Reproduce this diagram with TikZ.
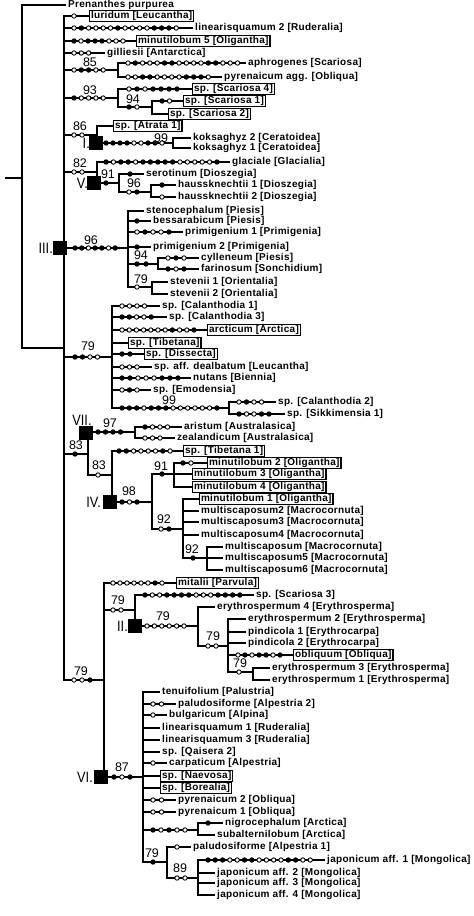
\documentclass[tikz,border=0pt]{standalone}
\usepackage{fontspec}
\setmainfont{Liberation Sans}
\newfontfamily\lblfont{Liberation Sans}[LetterSpace=3]
\newcommand\lblf{\lblfont\bfseries\fontsize{10}{11}\selectfont}
\newcommand\bsf{\fontsize{12.5}{12.5}\selectfont}
\newcommand\rnf{\fontsize{15}{15}\selectfont}
\newcommand\rns[1]{\scalebox{0.85}[1]{#1}}
\newcommand\mks[4]{\foreach \t [count=\i from 0] in {#4}{\draw[mk,fill=black!\t00] ({#1+\i*#3},#2) circle[radius=2.2pt];}}
\newcommand\ed[2]{\draw[br] (#1) |- (#2);}
\begin{document}
\begin{tikzpicture}[x=1pt,y=-1pt,
 br/.style={line width=1.25pt},
 lab/.style={anchor=west,inner xsep=2pt,inner ysep=0pt,font=\lblf},
 blab/.style={lab,draw,line width=1.1pt,inner xsep=1.5pt,inner ysep=0.6pt,text height=7.6pt,text depth=2.2pt},
 bs/.style={font=\bsf,inner sep=0pt},
 rn/.style={font=\rnf,inner sep=0pt,anchor=east},
 mk/.style={line width=0.9pt,draw=black},
 sq/.style={fill=black,minimum size=14pt,inner sep=0pt,rectangle}]
\useasboundingbox[fill=white] (0,0) rectangle (474,916);
% ---------- coordinates and leaves
\coordinate (R) at (22,178);
\coordinate (R0) at (5,178);
\coordinate (A) at (64,348);
\node[lab] (pren) at (66,5) {Prenanthes purpurea};
\node[blab] (lur) at (89,16) {luridum [Leucantha]};
\node[lab] (lin2) at (193,28) {linearisquamum 2 [Ruderalia]};
\node[blab] (mino5) at (136,41) {minutilobum 5 [Oligantha]};
\node[lab] (gil) at (105,53) {gilliesii [Antarctica]};
\coordinate (c85) at (118,70);
\node[lab] (aph) at (246,63) {aphrogenes [Scariosa]};
\node[lab] (pyrag) at (222,77) {pyrenaicum agg. [Obliqua]};
\coordinate (c93) at (118,98);
\node[blab] (sc4) at (192,89) {sp. [Scariosa 4]};
\coordinate (c94) at (152,107);
\node[blab] (sc1) at (183,101) {sp. [Scariosa 1]};
\node[blab] (sc2) at (168,114) {sp. [Scariosa 2]};
\coordinate (c86) at (97,135);
\node[blab] (atr) at (113,126) {sp. [Atrata 1]};
\coordinate (c99a) at (173,143);
\node[lab] (kok2) at (191,138) {koksaghyz 2 [Ceratoidea]};
\node[lab] (kok1) at (191,148) {koksaghyz 1 [Ceratoidea]};
\coordinate (c82) at (97,172);
\node[lab] (gla) at (230,162) {glaciale [Glacialia]};
\coordinate (c91) at (119,183);
\node[lab] (ser) at (144,174) {serotinum [Dioszegia]};
\coordinate (c96) at (151,192);
\node[lab] (hau1) at (176,185) {haussknechtii 1 [Dioszegia]};
\node[lab] (hau2) at (176,197) {haussknechtii 2 [Dioszegia]};
\coordinate (c96b) at (128,248);
\node[lab] (ste) at (144,211) {stenocephalum [Piesis]};
\node[lab] (bes) at (151,221) {bessarabicum [Piesis]};
\node[lab] (pri1) at (183,232) {primigenium 1 [Primigenia]};
\node[lab] (pri2) at (151,247) {primigenium 2 [Primigenia]};
\coordinate (c94b) at (158,264);
\node[lab] (cyl) at (199,258) {cylleneum [Piesis]};
\node[lab] (far) at (199,269) {farinosum [Sonchidium]};
\coordinate (c79a) at (152,287);
\node[lab] (stv1) at (168,282) {stevenii 1 [Orientalia]};
\node[lab] (stv2) at (168,294) {stevenii 2 [Orientalia]};
\coordinate (c79b) at (112,357);
\node[lab] (cal1) at (160,306) {sp. [Calanthodia 1]};
\node[lab] (cal3) at (167,317) {sp. [Calanthodia 3]};
\node[blab] (arc) at (207,330) {arcticum [Arctica]};
\node[blab] (tib) at (128,343) {sp. [Tibetana]};
\node[blab] (dis) at (144,354) {sp. [Dissecta]};
\node[lab] (dea) at (152,367) {sp. aff. dealbatum [Leucantha]};
\node[lab] (nut) at (191,378) {nutans [Biennia]};
\node[lab] (emo) at (151,390) {sp. [Emodensia]};
\coordinate (c99b) at (229,408);
\node[lab] (cal2) at (276,402) {sp. [Calanthodia 2]};
\node[lab] (sik) at (285,414) {sp. [Sikkimensia 1]};
\coordinate (c83a) at (88,454);
\coordinate (c97) at (135,432);
\node[lab] (ari) at (182,427) {aristum [Australasica]};
\node[lab] (zea) at (175,438) {zealandicum [Australasica]};
\coordinate (c83b) at (112,475);
\node[blab] (tib1) at (183,451) {sp. [Tibetana 1]};
\coordinate (c98) at (152,502);
\coordinate (c91b) at (174,474);
\node[blab] (mi2) at (207,463) {minutilobum 2 [Oligantha]};
\node[blab] (mi3) at (192,474) {minutilobum 3 [Oligantha]};
\node[blab] (mi4) at (192,487) {minutilobum 4 [Oligantha]};
\coordinate (c92a) at (183,529);
\node[blab] (mi1) at (199,499) {minutilobum 1 [Oligantha]};
\node[lab] (ms2) at (199,511) {multiscaposum2 [Macrocornuta]};
\node[lab] (ms3) at (199,522) {multiscaposum3 [Macrocornuta]};
\node[lab] (ms4) at (199,535) {multiscaposum4 [Macrocornuta]};
\coordinate (c92b) at (207,558);
\node[lab] (ms) at (223,547) {multiscaposum [Macrocornuta]};
\node[lab] (ms5) at (223,558) {multiscaposum5 [Macrocornuta]};
\node[lab] (ms6) at (223,570) {multiscaposum6 [Macrocornuta]};
\coordinate (c79c) at (104,680);
\node[blab] (mit) at (176,583) {mitalii [Parvula]};
\coordinate (c79d) at (135,610);
\node[lab] (sc3) at (254,595) {sp. [Scariosa 3]};
\coordinate (c79e) at (198,626);
\node[lab] (er4) at (215,607) {erythrospermum 4 [Erythrosperma]};
\coordinate (c79f) at (228,646);
\node[lab] (er2) at (246,619) {erythrospermum 2 [Erythrosperma]};
\node[lab] (pin1) at (246,632) {pindicola 1 [Erythrocarpa]};
\node[lab] (pin2) at (246,643) {pindicola 2 [Erythrocarpa]};
\node[blab] (obl) at (293,655) {obliquum [Obliqua]};
\coordinate (c79g) at (253,672);
\node[lab] (er3) at (270,668) {erythrospermum 3 [Erythrosperma]};
\node[lab] (er1) at (270,680) {erythrospermum 1 [Erythrosperma]};
\coordinate (c87) at (143,777);
\node[lab] (ten) at (160,692) {tenuifolium [Palustria]};
\node[lab] (pal2) at (176,704) {paludosiforme [Alpestria 2]};
\node[lab] (bul) at (167,715) {bulgaricum [Alpina]};
\node[lab] (lin1) at (160,728) {linearisquamum 1 [Ruderalia]};
\node[lab] (lin3) at (160,740) {linearisquamum 3 [Ruderalia]};
\node[lab] (qai) at (160,752) {sp. [Qaisera 2]};
\node[lab] (car) at (167,763) {carpaticum [Alpestria]};
\node[blab] (nae) at (160,776) {sp. [Naevosa]};
\node[blab] (bor) at (160,788) {sp. [Borealia]};
\node[lab] (pyr2) at (176,800) {pyrenaicum 2 [Obliqua]};
\node[lab] (pyr1) at (176,812) {pyrenaicum 1 [Obliqua]};
\coordinate (cn) at (198,830);
\node[lab] (nig) at (223,823) {nigrocephalum [Arctica]};
\node[lab] (sub) at (215,835) {subalternilobum [Arctica]};
\coordinate (c79h) at (167,862);
\node[lab] (pal1) at (191,847) {paludosiforme [Alpestria 1]};
\coordinate (c89) at (198,878);
\node[lab] (jap1) at (325,860) {japonicum aff. 1 [Mongolica]};
\node[lab] (jap2) at (215,873) {japonicum aff. 2 [Mongolica]};
\node[lab] (jap3) at (215,883) {japonicum aff. 3 [Mongolica]};
\node[lab] (jap4) at (215,895) {japonicum aff. 4 [Mongolica]};
% ---------- branches
\draw[br] (R0) -- (R);
\ed{R}{pren.west} \ed{R}{A}
\foreach \c in {lur.west,lin2.west,mino5.west,gil.west,c85,c93,c86,c82,c96b,c79b,c83a,c79c}{\ed{A}{\c}}
\ed{c85}{aph.west} \ed{c85}{pyrag.west}
\ed{c93}{sc4.west} \ed{c93}{c94}
\ed{c94}{sc1.west} \ed{c94}{sc2.west}
\ed{c86}{atr.west} \ed{c86}{c99a}
\ed{c99a}{kok2.west} \ed{c99a}{kok1.west}
\ed{c82}{gla.west} \ed{c82}{c91}
\ed{c91}{ser.west} \ed{c91}{c96}
\ed{c96}{hau1.west} \ed{c96}{hau2.west}
\foreach \c in {ste.west,bes.west,pri1.west,pri2.west,c94b,c79a}{\ed{c96b}{\c}}
\ed{c94b}{cyl.west} \ed{c94b}{far.west}
\ed{c79a}{stv1.west} \ed{c79a}{stv2.west}
\foreach \c in {cal1.west,cal3.west,arc.west,tib.west,dis.west,dea.west,nut.west,emo.west,c99b}{\ed{c79b}{\c}}
\ed{c99b}{cal2.west} \ed{c99b}{sik.west}
\ed{c83a}{c97} \ed{c83a}{c83b}
\ed{c97}{ari.west} \ed{c97}{zea.west}
\ed{c83b}{tib1.west} \ed{c83b}{c98}
\ed{c98}{c91b} \ed{c98}{c92a}
\foreach \c in {mi2.west,mi3.west,mi4.west}{\ed{c91b}{\c}}
\foreach \c in {mi1.west,ms2.west,ms3.west,ms4.west,c92b}{\ed{c92a}{\c}}
\foreach \c in {ms.west,ms5.west,ms6.west}{\ed{c92b}{\c}}
\foreach \c in {mit.west,c79d,c87}{\ed{c79c}{\c}}
\ed{c79d}{sc3.west} \ed{c79d}{c79e}
\ed{c79e}{er4.west} \ed{c79e}{c79f}
\foreach \c in {er2.west,pin1.west,pin2.west,obl.west,c79g}{\ed{c79f}{\c}}
\ed{c79g}{er3.west} \ed{c79g}{er1.west}
\foreach \c in {ten.west,pal2.west,bul.west,lin1.west,lin3.west,qai.west,car.west,nae.west,bor.west,pyr2.west,pyr1.west,cn,c79h}{\ed{c87}{\c}}
\ed{cn}{nig.west} \ed{cn}{sub.west}
\ed{c79h}{pal1.west} \ed{c79h}{c89}
\foreach \c in {jap1.west,jap2.west,jap3.west,jap4.west}{\ed{c89}{\c}}
% ---------- character marks (0 open, 1 filled)
\mks{74}{16}{7.3}{0}
\mks{74}{28}{7.3}{0,1,0,0,0,0,1,0,0,0,0,1,1,1,0}
\mks{74}{41}{7}{1,0,1,1,1,0,0,0}
\mks{74}{53}{7.3}{0,0,0}
\mks{74}{70}{7.3}{0,1,1,0,0}
\mks{128}{63}{7.3}{0,1,0,0,0,1,1,0,0,0,0,1,1,0,0,0}
\mks{128}{77}{7.3}{0,0,1,1,0,0,0,0,1,1,1,0}
\mks{74}{98}{7.3}{1,0,0,0,0}
\mks{129}{89}{8}{0,1,0,1,1,1,1}
\mks{129}{107}{8}{1,0}
\mks{162}{101}{7.5}{1,0}
\mks{74}{135}{8}{0,0}
\mks{106}{143}{7}{1,1,1,1,0,0,1,1,0}
\mks{106}{162}{7.4}{1,0,1,1,0,1,1,1,1,1,0,0,0,0,0,1}
\mks{74}{172}{8}{0,0}
\mks{106}{183}{7}{1}
\mks{130}{174}{7}{1}
\mks{129}{192}{8}{0,1}
\mks{162}{185}{7}{1}
\mks{162}{197}{7}{0}
\mks{137}{221}{7}{1}
\mks{137}{232}{8}{0,1,0,0,1}
\mks{75}{248}{6.7}{1,1,0,1,1,0,1}
\mks{137}{247}{7}{1}
\mks{137}{264}{9}{1,1}
\mks{168}{258}{8}{0,1,0}
\mks{168}{269}{8}{1,0,1}
\mks{137}{287}{7}{0}
\mks{122}{306}{7.5}{0,0,0,0}
\mks{122}{317}{7.3}{1,1,0,0,1}
\mks{122}{330}{7.2}{0,0,0,0,0,0,0,1,0,0,1}
\mks{75}{357}{7.5}{1,1,0,0}
\mks{122}{354}{8}{1,1}
\mks{122}{367}{7.5}{0,0,0}
\mks{122}{378}{8}{1,1,0,0,0,1,1,1}
\mks{122}{390}{7.5}{0,1,0}
\mks{122}{408}{7.3}{1,1,1,0,1,1,1,0,0,0,0,0,0,1}
\mks{239}{402}{7.5}{0,1,0,0}
\mks{239}{414}{7.5}{1,0,0,1,1}
\mks{98}{432}{7.5}{1,1,1,1}
\mks{145}{427}{7.5}{1,0,0,0}
\mks{145}{438}{7.5}{0,0,0}
\mks{75}{454}{7}{1}
\mks{119}{451}{7.3}{1,1,0,0,0,0,1,0}
\mks{98}{475}{7}{0}
\mks{162}{474}{7}{1}
\mks{183}{463}{8}{1,0}
\mks{122}{502}{7.5}{1,0,1}
\mks{161}{529}{8}{0,1}
\mks{193}{558}{7}{1}
\mks{113}{583}{7}{0,0,0,0,0,0,1,0}
\mks{145}{595}{7.3}{1,0,0,1,1,1,1,0,0,0,1,1,1,1}
\mks{113}{610}{8}{0,0}
\mks{147}{626}{7.4}{0,0,0,0,0,0}
\mks{208}{646}{8}{0,0}
\mks{238}{655}{7}{0,1,0,1,1,0,1}
\mks{239}{672}{7}{0}
\mks{74}{680}{8}{0,0,1}
\mks{153}{704}{8.5}{0,0}
\mks{153}{715}{7}{0}
\mks{153}{763}{7}{0}
\mks{114}{777}{8}{1,0,1}
\mks{153}{800}{8.5}{0,0}
\mks{153}{812}{8.5}{0,0}
\mks{153}{830}{8}{1,0,1,0,0}
\mks{208}{823}{7}{1}
\mks{177}{847}{7}{0}
\mks{153}{862}{7}{1}
\mks{177}{878}{8}{0,0}
\mks{208}{860}{7.3}{1,1,1,0,0,1,1,0,0,0,0,1,1,0,0}
% ---------- numbered lineage squares
\node[rn] (rI) at (90,143) {\rns{I.}};
\node[sq] (sI) at (96,143) {};
\node[rn] (rV) at (88,183) {\rns{V.}};
\node[sq] (sV) at (94,183) {};
\node[rn] (rIII) at (53,248) {\rns{III.}};
\node[sq] (sIII) at (60,248) {};
\node[sq] (sVII) at (86,433) {};
\node[font=\rnf,inner sep=0pt] (rVII) at (82,420) {\rns{VII.}};
\node[rn] (rIV) at (101,502) {\rns{IV.}};
\node[sq] (sIV) at (110,502) {};
\node[rn] (rII) at (128,626) {\rns{II.}};
\node[sq] (sII) at (135,626) {};
\node[rn] (rVI) at (93,777) {\rns{VI.}};
\node[sq] (sVI) at (101,777) {};
% ---------- support values
\node[bs] (b85) at (90,62) {85};
\node[bs] (b93) at (90,90) {93};
\node[bs] (b94) at (133,99) {94};
\node[bs] (b86) at (80,126) {86};
\node[bs] (b99a) at (161,138) {99};
\node[bs] (b82) at (80,163) {82};
\node[bs] (b91) at (108,174) {91};
\node[bs] (b96) at (134,183) {96};
\node[bs] (b96b) at (91,240) {96};
\node[bs] (b94b) at (141,255) {94};
\node[bs] (b79a) at (141,279) {79};
\node[bs] (b79b) at (88,346) {79};
\node[bs] (b99b) at (169,400) {99};
\node[bs] (b97) at (110,423) {97};
\node[bs] (b83a) at (76,445) {83};
\node[bs] (b83b) at (99,465) {83};
\node[bs] (b91b) at (161,466) {91};
\node[bs] (b98) at (129,491) {98};
\node[bs] (b92a) at (164,519) {92};
\node[bs] (b92b) at (192,549) {92};
\node[bs] (b79d) at (118,600) {79};
\node[bs] (b79e) at (163,616) {79};
\node[bs] (b79f) at (213,636) {79};
\node[bs] (b79g) at (240,663) {79};
\node[bs] (b79c) at (81,671) {79};
\node[bs] (b87) at (122,767) {87};
\node[bs] (b79h) at (152,853) {79};
\node[bs] (b89) at (180,868) {89};
\end{tikzpicture}
\end{document}
